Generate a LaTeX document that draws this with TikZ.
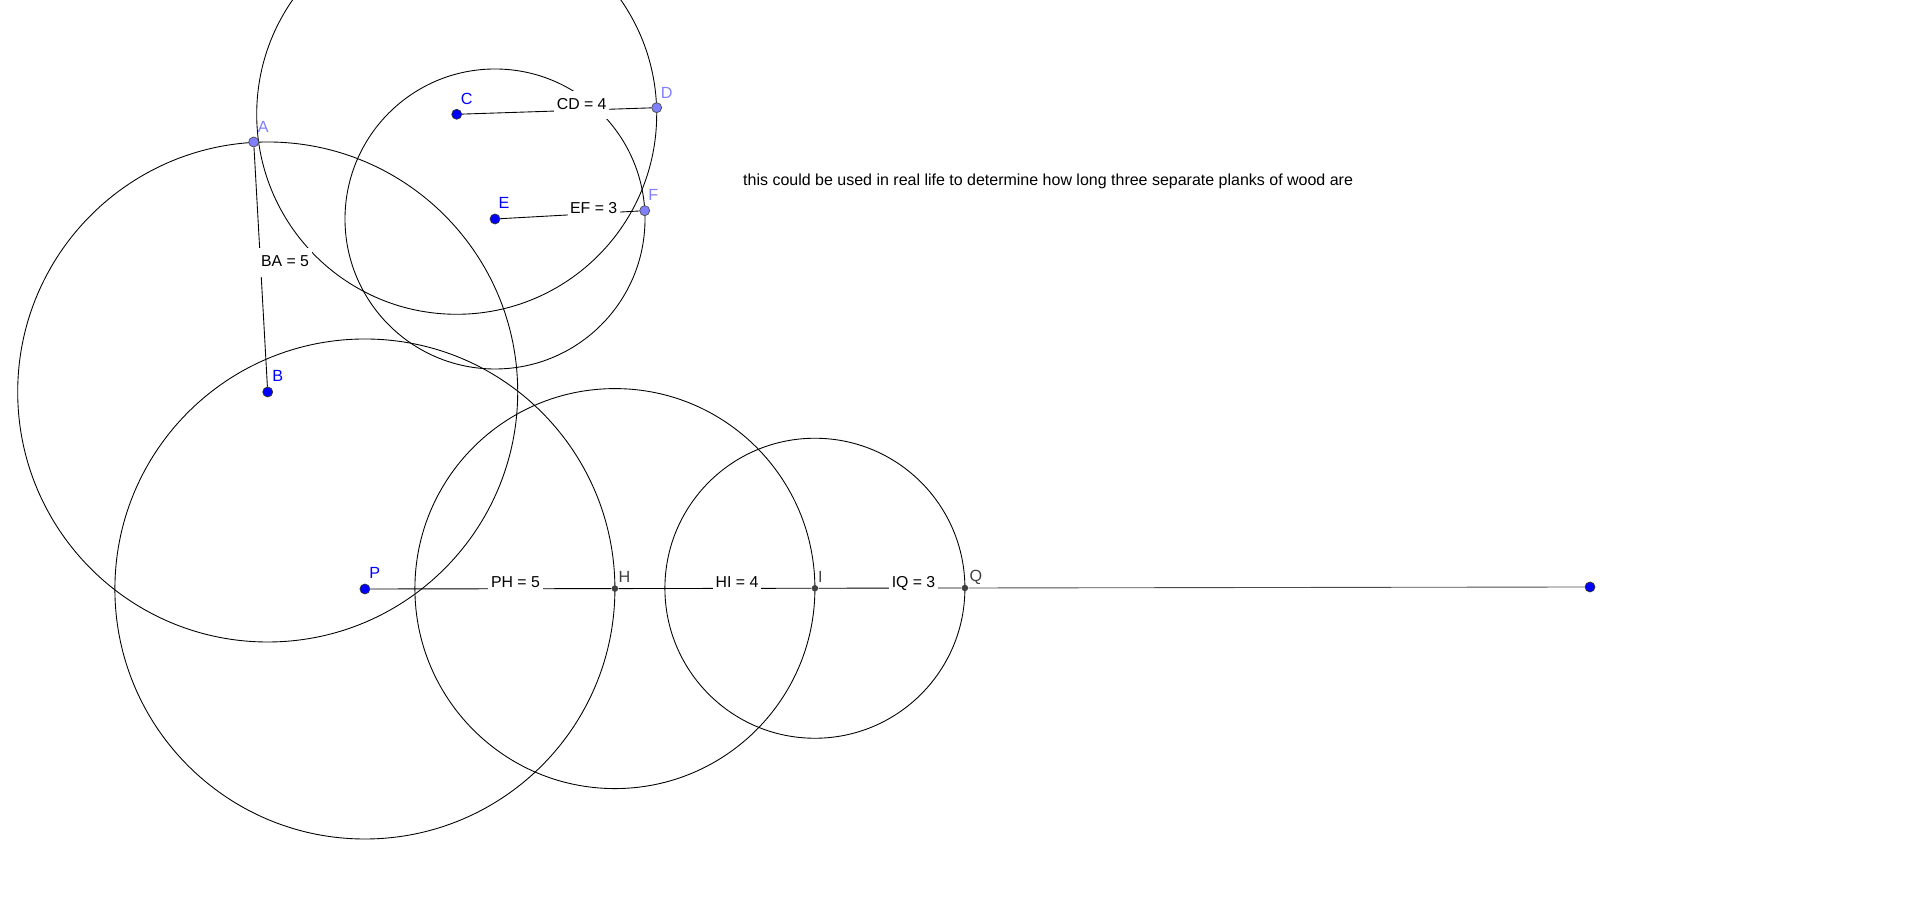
\documentclass[tikz,border=0pt]{standalone}
\usepackage{fontspec}
\setmainfont{Liberation Sans}
\usetikzlibrary{positioning}
\pgfdeclarelayer{bg}
\pgfsetlayers{bg,main}

\begin{document}
\begin{tikzpicture}[
  freept/.style={circle,draw=black!80,fill=blue,inner sep=0pt,minimum size=0.2cm,line width=0.4pt},
  onpt/.style={circle,draw=black!70,fill=blue!50,inner sep=0pt,minimum size=0.2cm,line width=0.4pt},
  fixpt/.style={circle,fill=black!75,inner sep=0pt,minimum size=0.13cm},
  seglabel/.style={fill=white,inner xsep=1.5pt,inner ysep=3.5pt,text height=7pt,text depth=2pt,font=\fontsize{9}{11}\selectfont},
  ptname/.style={font=\fontsize{9.2}{11}\selectfont,inner sep=0pt},
  geo/.style={line width=0.5pt}
]
\useasboundingbox (0,0) rectangle (38.4,18.28);

% points
\node[onpt] (A) at (5.074,15.44) {};
\node[freept] (B) at (5.354,10.44) {};
\node[freept] (C) at (9.134,15.994) {};
\node[onpt] (D) at (13.134,16.126) {};
\node[freept] (E) at (9.9,13.9) {};
\node[onpt] (F) at (12.894,14.066) {};
\node[freept] (P) at (7.298,6.5) {};
\node[fixpt] (H) at (12.298,6.508) {};
\node[fixpt] (I) at (16.298,6.515) {};
\node[fixpt] (Q) at (19.298,6.52) {};
\node[freept] (R) at (31.8,6.54) {};

% point names
\node[ptname,text=blue!50] (nA) at (5.266,15.746) {A};
\node[ptname,text=blue] (nB) at (5.554,10.766) {B};
\node[ptname,text=blue] (nC) at (9.334,16.3) {C};
\node[ptname,text=blue!50] (nD) at (13.334,16.426) {D};
\node[ptname,text=blue] (nE) at (10.08,14.214) {E};
\node[ptname,text=blue!50] (nF) at (13.066,14.38) {F};
\node[ptname,text=blue] (nP) at (7.494,6.82) {P};
\node[ptname,text=black!75] (nH) at (12.49,6.74) {H};
\node[ptname,text=black!75] (nI) at (16.408,6.74) {I};
\node[ptname,text=black!75] (nQ) at (19.52,6.74) {Q};

% circles
\begin{pgfonlayer}{bg}
\begin{scope}
\clip (0,0) rectangle (38.4,18.28);
\draw[geo] (B.center) circle (5);
\draw[geo] (C.center) circle (4);
\draw[geo] (E.center) circle (3);
\draw[geo] (P.center) circle (5);
\draw[geo] (H.center) circle (4);
\draw[geo] (I.center) circle (3);
\end{scope}
\end{pgfonlayer}

% segments
\draw[geo] (B) -- (A);
\draw[geo] (C) -- (D);
\draw[geo] (E) -- (F);
\draw[geo] (P) -- (H);
\draw[geo] (H) -- (I);
\draw[geo] (I) -- (Q);
\draw[geo,black!70] (Q) -- (R);

\node[seglabel] (lBA) at (5.70,13.03) {BA = 5};
\node[seglabel] (lCD) at (11.634,16.18) {CD = 4};
\node[seglabel] (lEF) at (11.874,14.094) {EF = 3};
\node[seglabel] (lPH) at (10.31,6.62) {PH = 5};
\node[seglabel] (lHI) at (14.74,6.62) {HI = 4};
\node[seglabel] (lIQ) at (18.27,6.62) {IQ = 3};

\node[font=\fontsize{9.1}{11}\selectfont,anchor=west] (note) at (14.74,14.66) {this could be used in real life to determine how long three separate planks of wood are};

\end{tikzpicture}
\end{document}
